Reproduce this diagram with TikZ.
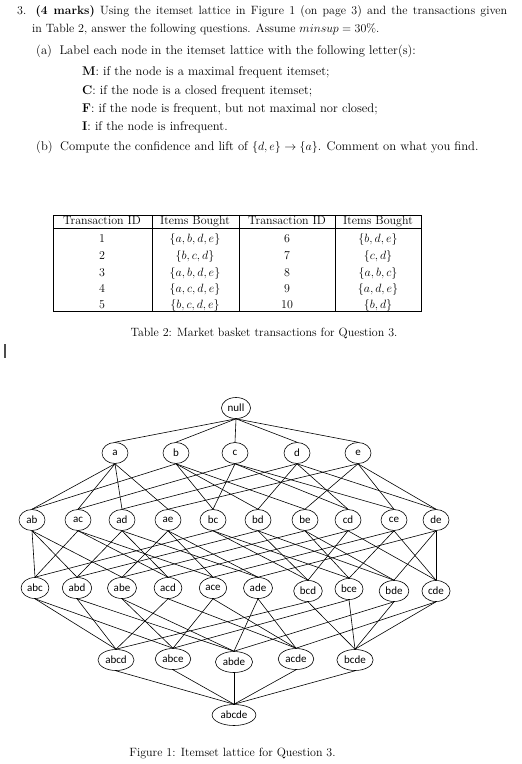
\documentclass[tikz,border=0pt]{standalone}
\usepackage{amsmath,amssymb}
\usepackage{fontspec}
\newfontfamily\latfont{Carlito}
\usepackage{tikz}
\usetikzlibrary{shapes.geometric}

\begin{document}
\begin{tikzpicture}[x=1pt,y=-1pt,
        txt/.style={anchor=base west,inner sep=0pt,font=\fontsize{12}{14}\selectfont},
        subtxt/.style={txt,font=\fontsize{12.6}{15}\selectfont},
        cell/.style={anchor=base,inner sep=0pt,font=\fontsize{12}{14}\selectfont},
        itemset/.style={ellipse,draw,line width=0.6pt,minimum width=26pt,minimum height=21pt,
                inner xsep=2pt,inner ysep=1pt,font=\latfont\fontsize{11}{13}\selectfont},
        link/.style={line width=0.6pt}]
            \useasboundingbox (0,0) rectangle (522,764);
            % question text
            \node[txt] (q1) at (17,14) {\makebox[490pt][s]{3. \textbf{(4 marks)} Using the itemset lattice in Figure 1 (on page 3) and the transactions given}};
            \node[txt] (q2) at (32,32) {in Table 2, answer the following questions. Assume $minsup = 30\%$.};
            \node[subtxt] (pa) at (36,54) {(a)\hspace{0.6em}Label each node in the itemset lattice with the following letter(s):};
            \foreach \y/\k/\rest in {75/M/{if the node is a maximal frequent itemset;},
                    94/C/{if the node is a closed frequent itemset;},
                    112/F/{if the node is frequent, but not maximal nor closed;},
                    130/I/{if the node is infrequent.}} {
                    \node[subtxt] (lab\k) at (82,\y) {\textbf{\k}: \rest};
                }
            \node[subtxt] (pb) at (36,150) {(b)\hspace{0.6em}Compute the confidence and lift of $\{d,e\}\rightarrow\{a\}$. Comment on what you find.};
            % table
            \draw[line width=0.6pt] (53,215) rectangle (421,311);
            \draw[line width=0.6pt] (53,228) -- (421,228);
            \foreach \x in {152,239,335} \draw[line width=0.6pt] (\x,215) -- (\x,311);
            \node[cell] (h1) at (102,224) {Transaction ID};
            \node[cell] (h2) at (195,224) {Items Bought};
            \node[cell] (h3) at (287,224) {Transaction ID};
            \node[cell] (h4) at (378,224) {Items Bought};
            \foreach \i/\y/\sa/\j/\sb in {1/242/{a,b,d,e}/6/{b,d,e},2/259/{b,c,d}/7/{c,d},
                    3/276/{a,b,d,e}/8/{a,b,c},4/292/{a,c,d,e}/9/{a,d,e},5/308/{b,c,d,e}/10/{b,d}} {
                    \node[cell] (id\i) at (102,\y) {\i};
                    \node[cell] (set\i) at (195,\y) {$\{\sa\}$};
                    \node[cell] (id\j) at (287,\y) {\j};
                    \node[cell] (set\j) at (378,\y) {$\{\sb\}$};
                }
            \node[txt,anchor=base] (tabcap) at (264,336) {Table 2: Market basket transactions for Question 3.};
            \draw[black!70,line width=1.2pt] (5,344) -- (5,358);
            % lattice
            \node[itemset] (null) at (236,408) {null};
            \foreach \n/\x in {a/115,b/176,c/235,d/297,e/358}
            \node[itemset] (\n) at (\x,453) {\n};
            \foreach \n/\x in {ab/32,ac/78,ad/122,ae/168,bc/213,bd/258,be/305,cd/348,ce/394,de/436}
            \node[itemset] (\n) at (\x,520) {\n};
            \foreach \n/\x/\y in {abc/35/588,abd/77/588,abe/122/588,acd/168/588,ace/213/588,
                    ade/258/588,bcd/308/591,bce/349/589,bde/394/591,cde/436/591}
            \node[itemset] (\n) at (\x,\y) {\n};
            \foreach \n/\x/\y in {abcd/116/660,abce/173/659,abde/234/662,acde/296/659,bcde/355/660}
            \node[itemset] (\n) at (\x,\y) {\n};
            \node[itemset] (abcde) at (234,715) {abcde};
            \foreach \s in {a,b,c,d,e} \draw[link] (null.south) -- (\s.north);
            \foreach \s/\t in {a/ab,a/ac,a/ad,a/ae,b/ab,b/bc,b/bd,b/be,c/ac,c/bc,c/cd,c/ce,
                    d/ad,d/bd,d/cd,d/de,e/ae,e/be,e/ce,e/de}
            \draw[link] (\s.south) -- (\t.north);
            \foreach \t/\p/\q/\r in {abc/ab/ac/bc,abd/ab/ad/bd,abe/ab/ae/be,acd/ac/ad/cd,ace/ac/ae/ce,
                    ade/ad/ae/de,bcd/bc/bd/cd,bce/bc/be/ce,bde/bd/be/de,cde/cd/ce/de} {
                    \draw[link] (\p.south) -- (\t.north);
                    \draw[link] (\q.south) -- (\t.north);
                    \draw[link] (\r.south) -- (\t.north);
                }
            \foreach \t/\p/\q/\r/\s in {abcd/abc/abd/acd/bcd,abce/abc/abe/ace/bce,abde/abd/abe/ade/bde,
                    acde/acd/ace/ade/cde,bcde/bcd/bce/bde/cde} {
                    \draw[link] (\p.south) -- (\t.north);
                    \draw[link] (\q.south) -- (\t.north);
                    \draw[link] (\r.south) -- (\t.north);
                    \draw[link] (\s.south) -- (\t.north);
                    \draw[link] (\t.south) -- (abcde.north);
                }
            \node[txt,anchor=base] (figcap) at (232.5,756) {Figure 1: Itemset lattice for Question 3.};
        \end{tikzpicture}
\end{document}
